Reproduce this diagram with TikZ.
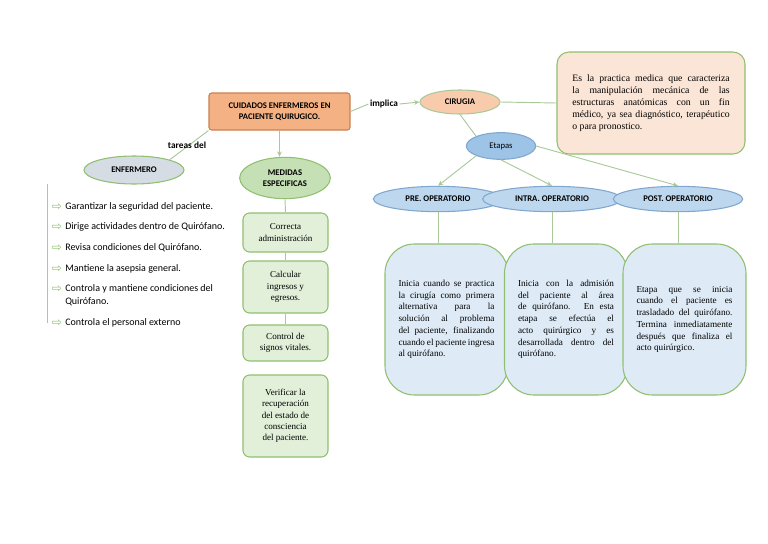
\documentclass[tikz,border=0pt]{standalone}
\usepackage{fontspec}
\setmainfont{Liberation Serif}
\newfontfamily\carl{Carlito}
\newfontfamily\djv{DejaVu Sans}
\usetikzlibrary{shapes.geometric,arrows.meta}
\newcommand\nohy{\hyphenpenalty=10000\relax\tolerance=9999\relax}
\definecolor{gline}{HTML}{A9C99A}
\definecolor{gbord}{HTML}{8FBF6F}
\definecolor{orf}{HTML}{F4B183}
\definecolor{orb}{HTML}{C9804F}
\definecolor{cirf}{HTML}{F8CBAD}
\definecolor{deff}{HTML}{FBE5D6}
\definecolor{etf}{HTML}{9DC3E6}
\definecolor{stf}{HTML}{BDD7EE}
\definecolor{stb}{HTML}{7FA7CF}
\definecolor{bxf}{HTML}{DEEBF7}
\definecolor{enf}{HTML}{D6DCE4}
\definecolor{mdf}{HTML}{C5E0B4}
\definecolor{mbf}{HTML}{E2F0D9}
\tikzset{
 lab/.style={font=\carl\bfseries\fontsize{6.5}{8}\selectfont,align=center},
 ell/.style={ellipse,draw=#1,line width=0.8pt,inner sep=0pt},
 mbox/.style={draw=gbord,fill=mbf,rounded corners=5pt,line width=0.8pt,minimum width=85*0.75pt,align=center,font=\fontsize{6.8}{8.5}\selectfont},
 sbox/.style={draw=gbord,fill=bxf,rounded corners=22pt,line width=0.8pt,minimum height=151*0.75pt,minimum width=123*0.75pt,text width=72pt,inner xsep=10pt,align=justify,font=\fontsize{6.9}{8.8}\selectfont\nohy},
 con/.style={draw=gline,line width=0.7pt},
 arr/.style={con,-{Stealth[length=4pt,width=3.5pt]}},
 item/.style={anchor=west,font=\carl\fontsize{7.5}{9.5}\selectfont,align=left,inner sep=0pt},
 mk/.style={font=\djv\fontsize{9}{9}\selectfont,text=gbord,inner sep=0pt}
}
\begin{document}
\begin{tikzpicture}[x=0.75pt,y=-0.75pt]
\useasboundingbox (0,0) rectangle (768,543);
\node[lab,draw=orb,fill=orf,line width=0.8pt,minimum width=141*0.75pt,minimum height=37*0.75pt,rounded corners=2pt] (main) at (279.5,111.5) {CUIDADOS ENFERMEROS EN\\PACIENTE QUIRUGICO.};
\node[lab,ell=gline,fill=cirf,minimum width=60pt,minimum height=18pt] (cir) at (460,102) {CIRUGIA};
\node[draw=gbord,fill=deff,rounded corners=9pt,line width=0.8pt,minimum width=188*0.75pt,minimum height=102*0.75pt,text width=118pt,align=justify,font=\fontsize{7.3}{9}\selectfont\nohy] (def) at (651,103) {Es la practica medica que caracteriza la manipulación mecánica de las estructuras anatómicas con un fin médico, ya sea diagnóstico, terapéutico o para pronostico.};
\node[lab,ell=stb,fill=etf,minimum width=52pt,minimum height=20pt,font=\carl\fontsize{6.5}{8}\selectfont] (eta) at (501,146) {Etapas};
\node[sbox] (b1) at (446.5,319.5) {Inicia cuando se practica la cirugía como primera alternativa para la solución al problema del paciente, finalizando cuando el paciente ingresa al quirófano.};
\node[sbox] (b2) at (566,319.5) {Inicia con la admisión del paciente al área de quirófano. En esta etapa se efectúa el acto quirúrgico y es desarrollada dentro del quirófano.};
\node[sbox] (b3) at (684.5,319.5) {Etapa que se inicia cuando el paciente es trasladado del quirófano. Termina inmediatamente después que finaliza el acto quirúrgico.};
\node[lab,ell=stb,fill=stf,minimum width=97pt,minimum height=19pt] (pre) at (438,199) {PRE. OPERATORIO};
\node[lab,ell=stb,fill=stf,minimum width=104pt,minimum height=19pt] (intra) at (552,199) {INTRA. OPERATORIO};
\node[lab,ell=stb,fill=stf,minimum width=97pt,minimum height=19pt] (post) at (678,199) {POST. OPERATORIO};
\node[lab,ell=gbord,fill=enf,minimum width=75pt,minimum height=21pt] (enf) at (134,170) {ENFERMERO};
\node[lab,ell=gbord,fill=mdf,minimum width=68pt,minimum height=31pt] (med) at (285,178) {MEDIDAS\\ESPECIFICAS};
\node[mbox,minimum height=39*0.75pt] (m1) at (285.5,232.5) {Correcta\\administración};
\node[mbox,minimum height=52*0.75pt] (m2) at (285.5,287) {Calcular\\ingresos y\\egresos.};
\node[mbox,minimum height=36*0.75pt] (m3) at (285.5,343) {Control de\\signos vitales.};
\node[mbox,minimum height=82*0.75pt] (m4) at (285.5,416) {Verificar la\\recuperación\\del estado de\\consciencia\\del paciente.};
% connectors
\coordinate (imp) at (384,104);
\node[font=\carl\bfseries\fontsize{7}{8}\selectfont,fill=white,inner sep=1pt] (impl) at (imp) {implica};
\draw[con] (main.east) -- (impl.west);
\draw[arr] (impl.east) -- (cir.west);
\draw[con] (cir.east) -- (def.west);
\draw[con] (cir.south) -- (eta.north west);
\draw[arr] (eta.south west) -- (pre.north);
\draw[arr] (eta.south) -- (intra.north);
\draw[arr] (eta.east) -- (post.north);
\draw[con] (pre.south) -- (pre.south|-b1.north);
\draw[con] (intra.south) -- (intra.south|-b2.north);
\draw[con] (post.south) -- (post.south|-b3.north);
\draw[arr] (main.south) -- (main.south|-med.north);
\draw[con] (med.south) -- (m1.north);
\draw[con] (m1) -- (m2);
\draw[con] (m2) -- (m3);
\draw[con] (main.south west) -- (enf.north east);
\node[font=\carl\bfseries\fontsize{7}{8}\selectfont] (tar) at (187,145) {tareas del};
% list
\coordinate (lt) at (47,184);
\coordinate (lb) at (47,323);
\draw[con] (lt) -- (lb);
\foreach \y/\t in {207/{Garantizar la seguridad del paciente.},227/{Dirige actividades dentro de Quirófano.},248/{Revisa condiciones del Quirófano.},269/{Mantiene la asepsia general.},289/{Controla y mantiene condiciones del},323/{Controla el personal externo}}{
 \node[mk] at (57,\y) {⇨};
 \node[item] at (65,\y) {\t};
}
\node[item] at (65,302) {Quirófano.};
\end{tikzpicture}
\end{document}
